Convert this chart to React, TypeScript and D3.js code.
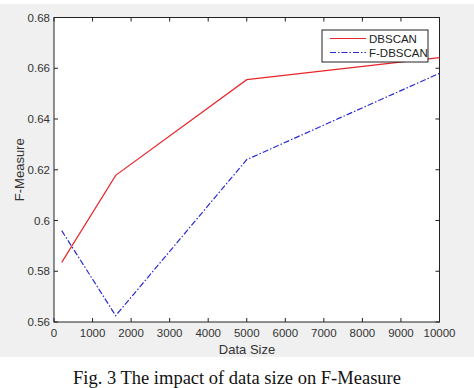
import React from 'react'
import * as d3 from 'd3'

const sizes = [200, 1600, 5000, 10000]
const dbscan = [0.5835, 0.6178, 0.6555, 0.6642]
const fdbscan = [0.596, 0.5625, 0.624, 0.658]
const xTicks = [0, 1000, 2000, 3000, 4000, 5000, 6000, 7000, 8000, 9000, 10000]
const yTicks = [0.56, 0.58, 0.6, 0.62, 0.64, 0.66, 0.68]
const seriesNames = ['DBSCAN', 'F-DBSCAN']

const W = 474
const H = 388
const left = 54
const right = 439.5
const top = 17.5
const bottom = 322

const App = () => {
  const x = d3.scaleLinear().domain([0, 10000]).range([left, right])
  const y = d3.scaleLinear().domain([0.56, 0.68]).range([bottom, top])

  const line = d3
    .line<number>()
    .x((_, i) => x(sizes[i]))
    .y((d) => y(d))

  const sans = 'Arial, "Liberation Sans", sans-serif'
  const tick = 4

  return (
    <svg
      width={W}
      height={H}
      style={{ position: 'absolute', left: 0, top: 0 }}
      xmlns="http://www.w3.org/2000/svg"
    >
      <rect x={0} y={0} width={W} height={H} fill="#fff" />
      <rect x={0} y={4} width={W} height={353} fill="#f0f0f0" />
      <rect x={left} y={top} width={right - left} height={bottom - top} fill="#fff" />

      {/* ticks */}
      {xTicks.map((t) => (
        <g key={'x' + t}>
          <line x1={x(t)} x2={x(t)} y1={bottom} y2={bottom - tick} stroke="#222" />
          <line x1={x(t)} x2={x(t)} y1={top} y2={top + tick} stroke="#222" />
          <text
            x={x(t)}
            y={337}
            textAnchor="middle"
            fontFamily={sans}
            fontSize={11.5}
            fill="#333"
          >
            {t}
          </text>
        </g>
      ))}
      {yTicks.map((t) => (
        <g key={'y' + t}>
          <line x1={left} x2={left + tick} y1={y(t)} y2={y(t)} stroke="#222" />
          <line x1={right} x2={right - tick} y1={y(t)} y2={y(t)} stroke="#222" />
          <text
            x={50}
            y={y(t) + 4}
            textAnchor="end"
            fontFamily={sans}
            fontSize={11.5}
            fill="#333"
          >
            {d3.format('')(t)}
          </text>
        </g>
      ))}

      <rect
        x={left}
        y={top}
        width={right - left}
        height={bottom - top}
        fill="none"
        stroke="#222"
        strokeWidth={1}
      />

      <path d={line(dbscan) || ''} fill="none" stroke="#e8262e" strokeWidth={1.2} />
      <path
        d={line(fdbscan) || ''}
        fill="none"
        stroke="#2a2ad2"
        strokeWidth={1.2}
        strokeDasharray="6 2 1.5 2"
      />

      {/* legend */}
      <rect x={322} y={30} width={106} height={32} fill="#fff" stroke="#222" />
      <line x1={330} x2={366} y1={38.5} y2={38.5} stroke="#e8262e" strokeWidth={1.2} />
      <line
        x1={330}
        x2={366}
        y1={52.5}
        y2={52.5}
        stroke="#2a2ad2"
        strokeWidth={1.2}
        strokeDasharray="6 2 1.5 2"
      />
      {seriesNames.map((n, i) => (
        <text key={n} x={369} y={42.5 + i * 14} fontFamily={sans} fontSize={11.5} fill="#222">
          {n}
        </text>
      ))}

      <text
        x={247}
        y={354}
        textAnchor="middle"
        fontFamily={sans}
        fontSize={13}
        fill="#333"
      >
        Data Size
      </text>
      <text
        transform={`translate(24,${(top + bottom) / 2}) rotate(-90)`}
        textAnchor="middle"
        fontFamily={sans}
        fontSize={13}
        fill="#333"
      >
        F-Measure
      </text>

      <text
        x={237}
        y={384}
        textAnchor="middle"
        fontFamily='"Liberation Serif", "Times New Roman", serif'
        fontSize={18.5}
        fill="#111"
      >
        Fig. 3 The impact of data size on F-Measure
      </text>
    </svg>
  )
}

export default App
